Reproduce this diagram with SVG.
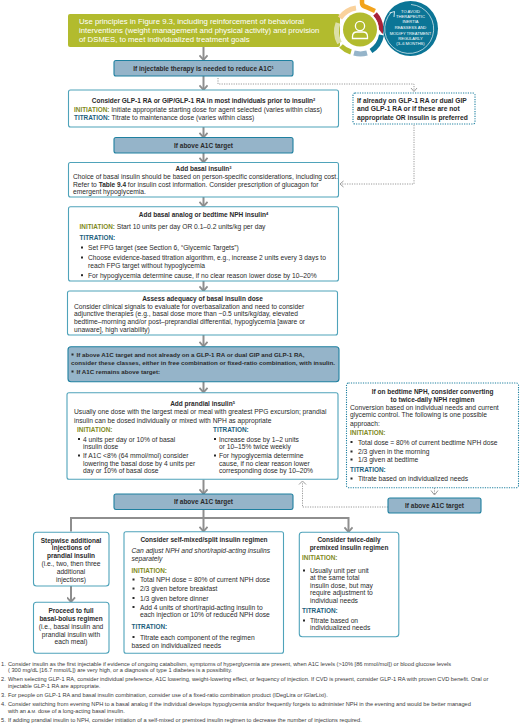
<svg xmlns="http://www.w3.org/2000/svg" width="520" height="724" viewBox="0 0 520 724">
<style>
text{font-family:"Liberation Sans",Arial,sans-serif;font-size:6.7px;fill:#2a2a2a}
.b{font-weight:700;font-size:6.5px}
.m{font-weight:700;font-size:6.2px}
.c{text-anchor:middle}
.i{font-weight:700;font-size:6.4px;fill:#7f8a22}
.t{font-weight:700;font-size:6.4px;fill:#1d5f7e}
.f{font-size:5.67px;fill:#3a3a3a}
.w{fill:#fff;font-size:7.75px}
.box{fill:#fff;stroke:#4fa3ba;stroke-width:1.1}
.bar{fill:#95b4c9;stroke:#1f80a0;stroke-width:1.1}
.dot{fill:#fff;stroke:#1f80a0;stroke-width:1.1;stroke-dasharray:1.2 1.2}
.ar{fill:none;stroke:#8e8e8e;stroke-width:2}
.da{fill:none;stroke:#9a9a9a;stroke-width:1;stroke-dasharray:1.2 1.2}
.ah{fill:none;stroke:#9a9a9a;stroke-width:1}
.lw{fill:#fff;font-size:4.1px;text-anchor:middle}
.bu{fill:#2a2a2a}
</style>
<defs>
<marker id="h" viewBox="0 0 10 10" refX="9" refY="5" markerWidth="9" markerHeight="9" markerUnits="userSpaceOnUse" orient="auto"><path d="M4.500 .5L9.500 5L4.500 9.500" fill="none" stroke="#8e8e8e" stroke-width="2"/></marker>
</defs>
<g id="connectors">
<path class="ar" d="M203.500 47V59.500" marker-end="url(#h)"/>
<path class="ar" d="M203.500 76V89.500" marker-end="url(#h)"/>
<path class="ar" d="M203.500 127V137" marker-end="url(#h)"/>
<path class="ar" d="M203.500 153V162" marker-end="url(#h)"/>
<path class="ar" d="M203.500 197V206" marker-end="url(#h)"/>
<path class="ar" d="M203.500 281V290.500" marker-end="url(#h)"/>
<path class="ar" d="M203.500 335V346" marker-end="url(#h)"/>
<path class="ar" d="M203.500 382V392" marker-end="url(#h)"/>
<path class="ar" d="M203.500 479.500V493.500" marker-end="url(#h)"/>
<path class="ar" d="M203.500 509.500V531" marker-end="url(#h)"/>
<path class="ar" d="M71 531.500V518H348.500V531.500" marker-end="url(#h)"/>
<path class="ar" d="M71 586V601.500" marker-end="url(#h)"/>
<path class="da" d="M218 78V84H414V90"/>
<path class="ah" d="M411 88L414 91.500L417 88"/>
<path class="da" d="M414 125V184H342"/>
<path class="ah" d="M343.500 181L340 184L343.500 187"/>
<path class="ah" d="M431 490.500L434.500 495L438 490.500"/>
<path class="da" d="M434.500 488V495"/>
<path class="da" d="M388 507H302.500V482"/>
<path class="ah" d="M299 484.500L302.500 481L306 484.500"/>
</g>
<g id="goal">
<rect x="68" y="14" width="272" height="33" rx="2" fill="#b2bb2e"/>
<text class="w" x="79" y="24">Use principles in Figure 9.3, including reinforcement of behavioral</text>
<text class="w" x="79" y="33">interventions (weight management and physical activity) and provision</text>
<text class="w" x="79" y="42">of DSMES, to meet individualized treatment goals</text>
</g>
<g id="cycle">
<path d="M339.500 43A24 24 0 0 1 338 23" fill="none" stroke="#dcdfa8" stroke-width="5"/>
<path d="M340 18A24 24 0 0 1 356 8" fill="none" stroke="#fad29c" stroke-width="5"/>
<path d="M341 46A24 24 0 0 0 351 52" fill="none" stroke="#b2bb2e" stroke-width="5"/>
<path d="M362 0V3Q362 6 366 7L375 11" fill="none" stroke="#f2a31c" stroke-width="4.500"/>
<path d="M375 14A24 24 0 0 1 381 28" fill="none" stroke="#a8223a" stroke-width="5"/>
<path d="M377 27L382.500 34L386 26Z" fill="#a8223a"/>
<path d="M381.500 35A24 24 0 0 1 371 51" fill="none" stroke="#0b7596" stroke-width="5"/>
<path d="M367 53A24 24 0 0 1 354 53" fill="none" stroke="#95b4c9" stroke-width="5"/>
<circle cx="360" cy="29.500" r="19" fill="#fff"/>
<circle cx="360" cy="29.500" r="17" fill="#b2bb2e"/>
<circle cx="360" cy="26" r="4.600" fill="none" stroke="#fff" stroke-width="1.300"/>
<path d="M352.500 38.500V36.500Q352.500 32 357 32H363Q367.500 32 367.500 36.500V38.500Z" fill="none" stroke="#fff" stroke-width="1.300"/>
</g>
<g id="inertia">
<circle cx="410.500" cy="28.500" r="27.500" fill="#0b7596"/>
<path d="M391.500 12A24.500 24.500 0 1 0 411 4.500" fill="none" stroke="#cfe3ea" stroke-width=".8"/>
<path d="M389.500 13L394.500 11.500L394 17" fill="none" stroke="#fff" stroke-width=".8"/>
<text class="lw" x="410.500" y="13.200">TO AVOID</text>
<text class="lw" x="410.500" y="18.200">THERAPEUTIC</text>
<text class="lw" x="410.500" y="23.200">INERTIA</text>
<text class="lw" x="410.500" y="29.200">REASSESS AND</text>
<text class="lw" x="410.500" y="34.500">MODIFY TREATMENT</text>
<text class="lw" x="410.500" y="39.500">REGULARLY</text>
<text class="lw" x="410.500" y="44.500">(3–6 MONTHS)</text>
</g>
<g id="bar1">
<rect class="bar" x="114" y="60.500" width="179" height="15.500" rx="2"/>
<text class="b c" x="203.500" y="71">If injectable therapy is needed to reduce A1C<tspan font-size="4" dy="-2">1</tspan></text>
</g>
<g id="glp1">
<rect class="box" x="68.500" y="90" width="270" height="37" rx="2"/>
<text class="b c" x="203.500" y="103">Consider GLP-1 RA or GIP/GLP-1 RA in most individuals prior to insulin<tspan font-size="4" dy="-2">2</tspan></text>
<text x="74" y="112"><tspan class="i">INITIATION:</tspan> Initiate appropriate starting dose for agent selected (varies within class)</text>
<text x="74" y="120"><tspan class="t">TITRATION:</tspan> Titrate to maintenance dose (varies within class)</text>
</g>
<g id="dotted1">
<rect class="dot" x="353" y="93" width="122" height="31" rx="2"/>
<text class="b" x="357" y="103" style="font-size:6.7px">If already on GLP-1 RA or dual GIP</text>
<text class="b" x="357" y="111.300" style="font-size:6.7px">and GLP-1 RA or if these are not</text>
<text class="b" x="357" y="119.500" style="font-size:6.7px">appropriate OR insulin is preferred</text>
</g>
<g id="bar2">
<rect class="bar" x="114" y="137.500" width="179" height="15.500" rx="2"/>
<text class="b c" x="203.500" y="147.500">If above A1C target</text>
</g>
<g id="basal">
<rect class="box" x="68.500" y="162.500" width="270" height="34.500" rx="2"/>
<text class="b c" x="203.500" y="171">Add basal insulin<tspan font-size="4" dy="-2">3</tspan></text>
<text x="73" y="178.500">Choice of basal insulin should be based on person-specific considerations, including cost.</text>
<text x="73" y="186.500">Refer to <tspan class="b">Table 9.4</tspan> for insulin cost information. Consider prescription of glucagon for</text>
<text x="73" y="194">emergent hypoglycemia.</text>
</g>
<g id="nph">
<rect class="box" x="68.500" y="206.700" width="270" height="74.300" rx="2"/>
<text class="b c" x="203.500" y="216.500">Add basal analog or bedtime NPH insulin<tspan font-size="4" dy="-2">4</tspan></text>
<text x="79.500" y="229"><tspan class="i">INITIATION:</tspan> Start 10 units per day OR 0.1–0.2 units/kg per day</text>
<text class="t" x="79.500" y="239.500">TITRATION:</text>
<rect class="bu" x="81" y="246.500" width="2" height="2"/>
<text x="88" y="250">Set FPG target (see Section 6, “Glycemic Targets”)</text>
<rect class="bu" x="81" y="256.500" width="2" height="2"/>
<text x="88" y="260">Choose evidence-based titration algorithm, e.g., increase 2 units every 3 days to</text>
<text x="88" y="267.700">reach FPG target without hypoglycemia</text>
<rect class="bu" x="81" y="274.200" width="2" height="2"/>
<text x="88" y="277.700">For hypoglycemia determine cause, if no clear reason lower dose by 10–20%</text>
</g>
<g id="assess">
<rect class="box" x="67.500" y="291" width="270" height="44" rx="2"/>
<text class="b c" x="202.500" y="301">Assess adequacy of basal insulin dose</text>
<text x="74" y="308.500">Consider clinical signals to evaluate for overbasalization and need to consider</text>
<text x="74" y="316.300">adjunctive therapies (e.g., basal dose more than ~0.5 units/kg/day, elevated</text>
<text x="74" y="324">bedtime–morning and/or post–preprandial differential, hypoglycemia [aware or</text>
<text x="74" y="332">unaware], high variability)</text>
</g>
<g id="bar3">
<rect class="bar" x="68" y="346.700" width="271" height="35" rx="3"/>
<rect class="bu" x="71.500" y="353.500" width="2" height="2"/>
<text class="m" x="76.500" y="357.300">If above A1C target and not already on a GLP-1 RA or dual GIP and GLP-1 RA,</text>
<text class="m" x="71" y="365.300">consider these classes, either in free combination or fixed-ratio combination, with insulin.</text>
<rect class="bu" x="71.500" y="370.500" width="2" height="2"/>
<text class="m" x="76.500" y="374.300">If A1C remains above target:</text>
</g>
<g id="prandial">
<rect class="box" x="67" y="392.700" width="271" height="86.600" rx="2"/>
<text class="b c" x="202.500" y="406">Add prandial insulin<tspan font-size="4" dy="-2">5</tspan></text>
<text x="74" y="414.300">Usually one dose with the largest meal or meal with greatest PPG excursion; prandial</text>
<text x="74" y="422.500">insulin can be dosed individually or mixed with NPH as appropriate</text>
<text class="i" x="77" y="431.500">INITIATION:</text>
<rect class="bu" x="78" y="438" width="2" height="2"/>
<text x="83" y="441.500">4 units per day or 10% of basal</text>
<text x="83" y="449">insulin dose</text>
<rect class="bu" x="78" y="454.500" width="2" height="2"/>
<text x="83" y="458">If A1C &lt;8% (64 mmol/mol) consider</text>
<text x="83" y="465.500">lowering the basal dose by 4 units per</text>
<text x="83" y="473">day or 10% of basal dose</text>
<text class="t" x="213" y="431.500">TITRATION:</text>
<rect class="bu" x="214" y="438" width="2" height="2"/>
<text x="219" y="441.500">Increase dose by 1–2 units</text>
<text x="219" y="449">or 10–15% twice weekly</text>
<rect class="bu" x="214" y="454.500" width="2" height="2"/>
<text x="219" y="458">For hypoglycemia determine</text>
<text x="219" y="465.500">cause, if no clear reason lower</text>
<text x="219" y="473">corresponding dose by 10–20%</text>
</g>
<g id="dotted2">
<rect class="dot" x="346.500" y="383" width="172" height="104.700" rx="2"/>
<text class="b c" x="432.500" y="393.500">If on bedtime NPH, consider converting</text>
<text class="b c" x="432.500" y="401.500">to twice-daily NPH regimen</text>
<text x="350" y="409.500">Conversion based on individual needs and current</text>
<text x="350" y="417">glycemic control. The following is one possible</text>
<text x="350" y="425.500">approach:</text>
<text class="i" x="350" y="435">INITIATION:</text>
<rect class="bu" x="350.500" y="441" width="2" height="2"/>
<text x="358" y="444.500">Total dose = 80% of current bedtime NPH dose</text>
<rect class="bu" x="350.500" y="450.500" width="2" height="2"/>
<text x="358" y="454">2/3 given in the morning</text>
<rect class="bu" x="350.500" y="458.500" width="2" height="2"/>
<text x="358" y="462">1/3 given at bedtime</text>
<text class="t" x="350" y="471.500">TITRATION:</text>
<rect class="bu" x="350.500" y="477.500" width="2" height="2"/>
<text x="358" y="481">Titrate based on individualized needs</text>
</g>
<g id="bar4">
<rect class="bar" x="114" y="494" width="179" height="15.500" rx="2"/>
<text class="b c" x="203.500" y="504">If above A1C target</text>
</g>
<g id="bar5">
<rect class="bar" x="388" y="498" width="93" height="15" rx="2"/>
<text class="b c" x="434.500" y="508">If above A1C target</text>
</g>
<g id="stepwise">
<rect class="box" x="33.500" y="532.300" width="75.500" height="53.700" rx="3"/>
<text class="b c" x="71" y="542.500">Stepwise additional</text>
<text class="b c" x="71" y="550">injections of</text>
<text class="b c" x="71" y="558">prandial insulin</text>
<text class="c" x="71" y="566">(i.e., two, then three</text>
<text class="c" x="71" y="573.500">additional</text>
<text class="c" x="71" y="581.500">injections)</text>
</g>
<g id="bolus">
<rect class="box" x="33.500" y="602.300" width="75.500" height="51" rx="3"/>
<text class="b c" x="71" y="613">Proceed to full</text>
<text class="b c" x="71" y="621">basal-bolus regimen</text>
<text class="c" x="71" y="629">(i.e., basal insulin and</text>
<text class="c" x="71" y="636.500">prandial insulin with</text>
<text class="c" x="71" y="644">each meal)</text>
</g>
<g id="split">
<rect class="box" x="124" y="531.700" width="159.500" height="121.600" rx="2"/>
<text class="b c" x="204" y="541.500">Consider self-mixed/split insulin regimen</text>
<text x="131.500" y="553" font-style="italic">Can adjust NPH and short/rapid-acting insulins</text>
<text x="131.500" y="561" font-style="italic">separately</text>
<text class="i" x="131.500" y="572.500">INITIATION:</text>
<rect class="bu" x="132.500" y="578.500" width="2" height="2"/>
<text x="140" y="582">Total NPH dose = 80% of current NPH dose</text>
<rect class="bu" x="132.500" y="587.500" width="2" height="2"/>
<text x="140" y="591">2/3 given before breakfast</text>
<rect class="bu" x="132.500" y="597" width="2" height="2"/>
<text x="140" y="600.500">1/3 given before dinner</text>
<rect class="bu" x="132.500" y="606" width="2" height="2"/>
<text x="140" y="609.500">Add 4 units of short/rapid-acting insulin to</text>
<text x="140" y="617">each injection or 10% of reduced NPH dose</text>
<text class="t" x="131.500" y="628.500">TITRATION:</text>
<rect class="bu" x="132.500" y="636" width="2" height="2"/>
<text x="140" y="639.500">Titrate each component of the regimen</text>
<text x="131.500" y="648">based on individualized needs</text>
</g>
<g id="premixed">
<rect class="box" x="299.300" y="532.300" width="99.500" height="104.400" rx="3"/>
<text class="b c" x="349" y="541.500">Consider twice-daily</text>
<text class="b c" x="349" y="549.500">premixed insulin regimen</text>
<text class="i" x="302" y="560">INITIATION:</text>
<rect class="bu" x="303" y="569.500" width="2" height="2"/>
<text x="310" y="573">Usually unit per unit</text>
<text x="310" y="580">at the same total</text>
<text x="310" y="587.500">insulin dose, but may</text>
<text x="310" y="595">require adjustment to</text>
<text x="310" y="602.500">individual needs</text>
<text class="t" x="302" y="612.500">TITRATION:</text>
<rect class="bu" x="303" y="619.500" width="2" height="2"/>
<text x="310" y="623">Titrate based on</text>
<text x="310" y="630">individualized needs</text>
</g>
<g id="footnotes">
<text class="f" x="1" y="665.500">1.</text>
<text class="f" x="8" y="665.500">Consider insulin as the first injectable if evidence of ongoing catabolism, symptoms of hyperglycemia are present, when A1C levels (&gt;10% [86 mmol/mol]) or blood glucose levels</text>
<text class="f" x="8" y="672">(&#160;300 mg/dL [16.7 mmol/L]) are very high, or a diagnosis of type 1 diabetes is a possibility.</text>
<text class="f" x="1" y="681">2.</text>
<text class="f" x="8" y="681">When selecting GLP-1 RA, consider individual preference, A1C lowering, weight-lowering effect, or fequency of injection. If CVD is present, consider GLP-1 RA with proven CVD benefit. Oral or</text>
<text class="f" x="8" y="688">injectable GLP-1 RA are appropriate.</text>
<text class="f" x="1" y="697">3.</text>
<text class="f" x="8" y="697">For people on GLP-1 RA and basal insulin combination, consider use of a fixed-ratio combination product (IDegLira or iGlarLixi).</text>
<text class="f" x="1" y="706">4.</text>
<text class="f" x="8" y="706">Consider switching from evening NPH to a basal analog if the individual develops hypoglycemia and/or frequently forgets to administer NPH in the evening and would be better managed</text>
<text class="f" x="8" y="712.500">with an <tspan font-size="4.300">A.M.</tspan> dose of a long-acting basal insulin.</text>
<text class="f" x="1" y="721.500">5.</text>
<text class="f" x="8" y="721.500">If adding prandial insulin to NPH, consider initiation of a self-mixed or premixed insulin regimen to decrease the number of injections required.</text>
</g>
</svg>
